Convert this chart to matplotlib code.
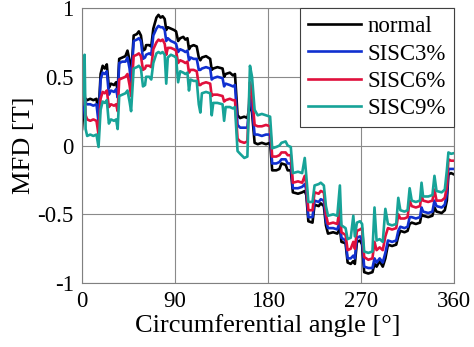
import matplotlib

matplotlib.use("Agg")
import matplotlib.pyplot as plt

# circumferential angle [deg] and air-gap MFD [T]
angle = [
    0, 1.5, 2.5, 3.5, 5, 8, 11, 14, 16, 18, 20, 22, 24, 26, 28, 31, 33, 34.5,
    36, 39, 42, 44, 46, 47.5, 50, 53, 55, 57, 59, 61, 62, 65, 67, 69, 72, 74,
    76, 78, 80, 81.5, 83, 86, 89, 91, 93, 95, 98, 100, 102, 103.5, 105, 108,
    111, 113, 114.5, 116, 120, 124, 125.5, 127, 131, 136, 137.5, 139, 143,
    146, 148, 150.5, 153, 157, 160, 162.5, 164.5, 167, 170, 174, 178, 182,
    184, 188, 191, 193, 197, 199, 202, 204, 209, 213, 215.5, 217, 219, 223,
    225, 229, 231, 234, 236, 238, 243, 247, 249.5, 251, 255, 257, 260, 262.5,
    264, 266, 269, 271, 273, 277, 281, 283, 285, 288, 291, 293.5, 296, 300,
    304, 306, 308, 312, 315, 317, 319, 323, 327, 328.5, 330, 335, 339, 341,
    343, 348, 351, 353, 354.5, 357, 360,
]

normal = [
    0.12, 0.28, 0.32, 0.34, 0.33, 0.34, 0.33, 0.34, 0.22, 0.52, 0.58, 0.56,
    0.59, 0.42, 0.45, 0.44, 0.46, 0.40, 0.63, 0.64, 0.65, 0.69, 0.62, 0.50,
    0.80, 0.81, 0.83, 0.80, 0.69, 0.70, 0.73, 0.73, 0.72, 0.85, 0.93, 0.95,
    0.93, 0.94, 0.92, 0.84, 0.86, 0.85, 0.84, 0.83, 0.76, 0.78, 0.79, 0.77,
    0.78, 0.70, 0.72, 0.73, 0.72, 0.64, 0.62, 0.64, 0.65, 0.63, 0.55, 0.56,
    0.57, 0.56, 0.50, 0.52, 0.53, 0.51, 0.52, 0.22, 0.20, 0.21, 0.20, 0.30,
    0.24, 0.02, 0.01, 0.02, 0.01, 0.02, -0.18, -0.18, -0.17, -0.13, -0.14,
    -0.18, -0.18, -0.34, -0.35, -0.34, -0.33, -0.36, -0.55, -0.56, -0.43,
    -0.44, -0.42, -0.44, -0.58, -0.64, -0.63, -0.64, -0.60, -0.70, -0.71,
    -0.85, -0.86, -0.84, -0.86, -0.70, -0.69, -0.72, -0.92, -0.93, -0.92,
    -0.86, -0.88, -0.84, -0.88, -0.82, -0.72, -0.73, -0.72, -0.66, -0.62,
    -0.63, -0.62, -0.57, -0.56, -0.57, -0.56, -0.50, -0.51, -0.52, -0.51,
    -0.45, -0.48, -0.49, -0.47, -0.40, -0.21, -0.20, -0.21,
]

sisc3 = [
    0.20, 0.33, 0.36, 0.31, 0.30, 0.30, 0.29, 0.30, 0.17, 0.48, 0.53, 0.52,
    0.54, 0.37, 0.40, 0.39, 0.41, 0.35, 0.60, 0.61, 0.61, 0.64, 0.56, 0.45,
    0.76, 0.77, 0.78, 0.76, 0.63, 0.64, 0.66, 0.67, 0.66, 0.80, 0.85, 0.87,
    0.86, 0.86, 0.84, 0.76, 0.78, 0.76, 0.75, 0.74, 0.68, 0.70, 0.69, 0.68,
    0.69, 0.62, 0.64, 0.63, 0.63, 0.55, 0.55, 0.56, 0.57, 0.56, 0.48, 0.49,
    0.50, 0.49, 0.43, 0.45, 0.44, 0.43, 0.44, 0.15, 0.13, 0.13, 0.13, 0.36,
    0.28, 0.08, 0.08, 0.07, 0.08, 0.08, -0.13, -0.13, -0.12, -0.10, -0.10,
    -0.13, -0.13, -0.31, -0.31, -0.30, -0.28, -0.32, -0.52, -0.52, -0.40,
    -0.41, -0.39, -0.40, -0.55, -0.60, -0.60, -0.61, -0.55, -0.67, -0.69,
    -0.82, -0.82, -0.80, -0.82, -0.67, -0.66, -0.69, -0.88, -0.89, -0.89,
    -0.82, -0.85, -0.82, -0.85, -0.78, -0.69, -0.70, -0.69, -0.62, -0.59,
    -0.60, -0.59, -0.52, -0.52, -0.53, -0.52, -0.45, -0.48, -0.49, -0.48,
    -0.40, -0.44, -0.45, -0.43, -0.35, -0.17, -0.17, -0.17,
]

sisc6 = [
    0.30, 0.42, 0.40, 0.22, 0.19, 0.18, 0.19, 0.18, 0.08, 0.34, 0.39, 0.38,
    0.40, 0.28, 0.30, 0.29, 0.30, 0.25, 0.48, 0.49, 0.50, 0.52, 0.44, 0.36,
    0.65, 0.66, 0.67, 0.65, 0.55, 0.56, 0.58, 0.58, 0.57, 0.70, 0.75, 0.77,
    0.76, 0.77, 0.74, 0.66, 0.71, 0.71, 0.70, 0.69, 0.60, 0.62, 0.61, 0.60,
    0.61, 0.53, 0.55, 0.55, 0.54, 0.44, 0.44, 0.45, 0.46, 0.45, 0.36, 0.37,
    0.37, 0.36, 0.32, 0.33, 0.34, 0.33, 0.33, 0.05, 0.03, 0.02, 0.03, 0.46,
    0.38, 0.15, 0.14, 0.14, 0.15, 0.14, -0.08, -0.08, -0.07, -0.05, -0.05,
    -0.07, -0.07, -0.27, -0.26, -0.27, -0.22, -0.28, -0.47, -0.47, -0.34,
    -0.35, -0.33, -0.34, -0.50, -0.57, -0.56, -0.57, -0.45, -0.63, -0.65,
    -0.76, -0.75, -0.70, -0.75, -0.62, -0.61, -0.60, -0.81, -0.83, -0.82,
    -0.70, -0.76, -0.74, -0.76, -0.66, -0.60, -0.61, -0.60, -0.50, -0.53,
    -0.53, -0.52, -0.40, -0.44, -0.45, -0.44, -0.36, -0.40, -0.41, -0.40,
    -0.32, -0.40, -0.40, -0.38, -0.30, -0.10, -0.11, -0.11,
]

sisc9 = [
    0.30, 0.50, 0.66, 0.12, 0.07, 0.08, 0.07, 0.08, -0.01, 0.26, 0.32, 0.31,
    0.33, 0.16, 0.19, 0.18, 0.19, 0.12, 0.36, 0.37, 0.38, 0.40, 0.32, 0.25,
    0.56, 0.57, 0.58, 0.56, 0.43, 0.44, 0.50, 0.50, 0.48, 0.60, 0.67, 0.68,
    0.67, 0.68, 0.66, 0.45, 0.64, 0.66, 0.65, 0.64, 0.46, 0.54, 0.53, 0.52,
    0.53, 0.40, 0.48, 0.47, 0.47, 0.30, 0.24, 0.38, 0.39, 0.38, 0.22, 0.31,
    0.31, 0.30, 0.18, 0.28, 0.28, 0.27, 0.28, -0.04, -0.06, -0.09, -0.08,
    0.58, 0.50, 0.26, 0.22, 0.23, 0.22, 0.21, -0.02, -0.01, 0.00, 0.02, 0.03,
    0.00, -0.01, -0.20, -0.19, -0.20, -0.09, -0.22, -0.41, -0.41, -0.29,
    -0.28, -0.27, -0.29, -0.44, -0.51, -0.50, -0.51, -0.29, -0.58, -0.60,
    -0.68, -0.67, -0.51, -0.66, -0.56, -0.55, -0.57, -0.77, -0.78, -0.77,
    -0.45, -0.69, -0.68, -0.70, -0.46, -0.57, -0.58, -0.57, -0.38, -0.47,
    -0.48, -0.47, -0.31, -0.40, -0.41, -0.40, -0.27, -0.37, -0.37, -0.36,
    -0.22, -0.33, -0.34, -0.32, -0.18, -0.05, -0.06, -0.055,
]

labels = ["normal", "SISC3%", "SISC6%", "SISC9%"]
colors = ["#000000", "#1030d0", "#e0103c", "#17a398"]

plt.rcParams["font.family"] = ["Liberation Serif", "DejaVu Serif"]
plt.rcParams["axes.unicode_minus"] = False

fig = plt.figure(figsize=(4.74, 3.47), dpi=100)
ax = fig.add_axes([0.173, 0.184, 0.785, 0.793])

for values, label, color in zip([normal, sisc3, sisc6, sisc9], labels, colors):
    ax.plot(angle, values, color=color, lw=1.9, label=label)

ax.set_xlim(0, 360)
ax.set_ylim(-1, 1)
ax.set_xticks([0, 90, 180, 270, 360])
ax.set_yticks([-1, -0.5, 0, 0.5, 1])
ax.set_yticklabels(["-1", "-0.5", "0", "0.5", "1"])
ax.grid(True, color="#8a8a8a", lw=0.8)
ax.tick_params(length=0, labelsize=16.5, pad=6)
for spine in ax.spines.values():
    spine.set_color("#808080")
    spine.set_linewidth(0.8)

ax.set_xlabel("Circumferential angle [°]", fontsize=19, labelpad=1)
ax.set_ylabel("MFD [T]", fontsize=19, labelpad=2)

leg = ax.legend(loc="upper right", borderaxespad=0, fontsize=16.5, fancybox=False,
                framealpha=1, edgecolor="#404040", handlelength=2.3,
                handletextpad=0.3, labelspacing=0.28, borderpad=0.35)
leg.get_frame().set_linewidth(0.8)

fig.savefig("out.png", dpi=100)
